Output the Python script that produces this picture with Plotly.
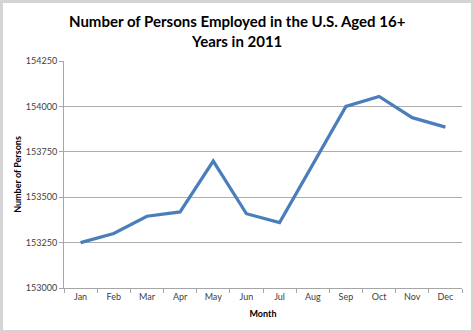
import plotly.graph_objects as go

months = ["Jan", "Feb", "Mar", "Apr", "May", "Jun", "Jul", "Aug", "Sep", "Oct", "Nov", "Dec"]
employed = [153250, 153300, 153395, 153419, 153699, 153409, 153360, 153683, 154000, 154055, 153938, 153886]
y_ticks = [153000, 153250, 153500, 153750, 154000, 154250]

W, H = 474, 332
L, R, T, B = 64, 462, 61, 288

def px(x):
    return (x - L) / (R - L)

def py(y):
    return (B - y) / (B - T)

fig = go.Figure()
fig.add_trace(go.Scatter(
    x=months, y=employed, mode="lines",
    line=dict(color="#4a7ebb", width=3.2),
    hoverinfo="skip", showlegend=False,
))

font = "Lato"
fig.update_layout(
    width=W, height=H,
    margin=dict(l=L, r=W - R, t=T, b=H - B),
    paper_bgcolor="#d4d4d4",
    plot_bgcolor="white",
    xaxis=dict(
        type="category", tickson="boundaries", ticks="outside", ticklen=4,
        tickcolor="#a6a6a6", showline=True, linecolor="#a6a6a6", linewidth=1,
        showgrid=False, tickfont=dict(family=font, size=9, color="#404040"),
        title=dict(text="Month", font=dict(family=font, size=9, color="black", weight="bold"), standoff=9),
        range=[-0.5, 11.5],
    ),
    yaxis=dict(
        range=[153000, 154250], tickvals=y_ticks, tickformat="d", ticks="outside", ticklen=4,
        tickcolor="#a6a6a6", showline=True, linecolor="#a6a6a6", linewidth=1,
        showgrid=True, gridcolor="#adadad", gridwidth=1, zeroline=False,
        tickfont=dict(family=font, size=9, color="#404040"),
        title=dict(text="Number of Persons", font=dict(family=font, size=9, color="black", weight="bold"), standoff=2),
    ),
    annotations=[dict(
        text="<b>Number of Persons Employed in the U.S. Aged 16+<br>Years in 2011</b>",
        xref="paper", yref="paper", x=px(237), y=py(10), xanchor="center", yanchor="top",
        showarrow=False, font=dict(family=font, size=15, color="black"),
    )],
    shapes=[dict(
        type="rect", xref="paper", yref="paper", layer="below",
        x0=px(3), x1=px(471), y0=py(330), y1=py(3),
        fillcolor="white", line=dict(width=0),
    )],
)

fig.write_html("out.html")
